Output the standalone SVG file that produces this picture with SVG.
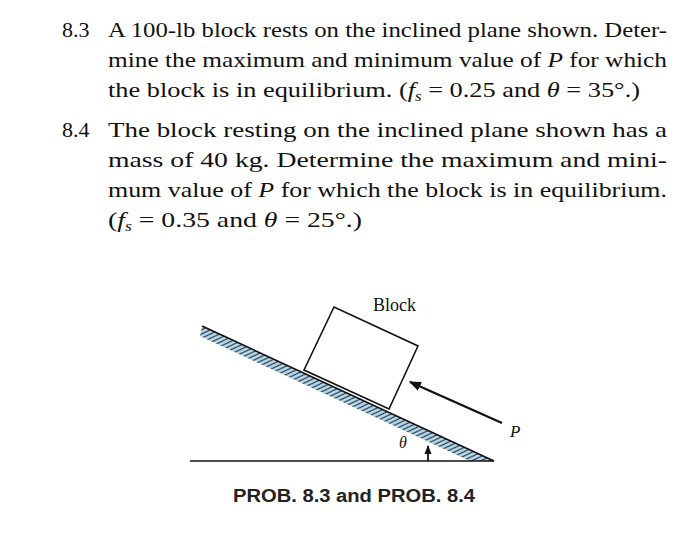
<svg xmlns="http://www.w3.org/2000/svg" width="700" height="537" viewBox="0 0 700 537">
<style>
.t{font-family:"Liberation Serif",serif;font-size:22px;fill:#111}
.i{font-style:italic}
.ln{stroke:#111;stroke-width:1.6;fill:none}
</style>
<defs>
<pattern id="h" width="5" height="20" patternUnits="userSpaceOnUse" patternTransform="rotate(24.8) skewX(-40)">
<rect width="5" height="20" fill="#b8dcee"/>
<line x1="1.5" y1="0" x2="1.5" y2="20" stroke="#2a3a4a" stroke-width="1.6"/>
</pattern>
<marker id="a" viewBox="0 0 10 10" refX="9" refY="5" markerWidth="5" markerHeight="5" orient="auto-start-reverse"><path d="M0,1 L10,5 L0,9 z" fill="#111"/></marker>
</defs>
<rect width="700" height="537" fill="#fff"/>
<g id="text">
<text class="t" x="62" y="37">8.3</text>
<text class="t" x="108" y="37" textLength="559" lengthAdjust="spacingAndGlyphs">A 100-lb block rests on the inclined plane shown. Deter-</text>
<text class="t" x="108" y="67" textLength="559" lengthAdjust="spacingAndGlyphs">mine the maximum and minimum value of <tspan class="i">P</tspan> for which</text>
<text class="t" x="108" y="97" textLength="532" lengthAdjust="spacingAndGlyphs">the block is in equilibrium. (<tspan class="i">f</tspan><tspan font-size="14" dy="4" class="i">s</tspan><tspan dy="-4"> = 0.25 and </tspan><tspan class="i">θ</tspan> = 35°.)</text>
<text class="t" x="62" y="137">8.4</text>
<text class="t" x="108" y="137" textLength="559" lengthAdjust="spacingAndGlyphs">The block resting on the inclined plane shown has a</text>
<text class="t" x="108" y="167" textLength="559" lengthAdjust="spacingAndGlyphs">mass of 40 kg. Determine the maximum and mini-</text>
<text class="t" x="108" y="197" textLength="559" lengthAdjust="spacingAndGlyphs">mum value of <tspan class="i">P</tspan> for which the block is in equilibrium.</text>
<text class="t" x="108" y="227" textLength="254" lengthAdjust="spacingAndGlyphs">(<tspan class="i">f</tspan><tspan font-size="14" dy="4" class="i">s</tspan><tspan dy="-4"> = 0.35 and </tspan><tspan class="i">θ</tspan> = 25°.)</text>
</g>
<g id="incline">
<polygon points="202,326 494,461 470,461 200,336" fill="url(#h)"/>
<line class="ln" x1="202" y1="326" x2="494" y2="461"/>
<line class="ln" x1="190" y1="461" x2="494" y2="461"/>
</g>
<g id="block">
<polygon class="ln" points="304,370 334,307 418,346 389,409" fill="#fff"/>
<text x="373" y="311" font-family="Liberation Serif,serif" font-size="18" fill="#111">Block</text>
</g>
<g id="connectors">
<line x1="502" y1="423" x2="410" y2="382" stroke="#111" stroke-width="2.4" marker-end="url(#a)"/>
<line x1="428" y1="461" x2="428" y2="446" stroke="#111" stroke-width="1.8" marker-end="url(#a)"/>
</g>
<text x="510" y="437" font-family="Liberation Serif,serif" font-style="italic" font-size="17" fill="#111">P</text>
<text x="399" y="448" font-family="Liberation Serif,serif" font-style="italic" font-size="16" fill="#111">θ</text>
<text x="233" y="502" textLength="242" lengthAdjust="spacingAndGlyphs" font-family="Liberation Sans,sans-serif" font-weight="bold" font-size="18" fill="#222">PROB. 8.3 and PROB. 8.4</text>
</svg>
